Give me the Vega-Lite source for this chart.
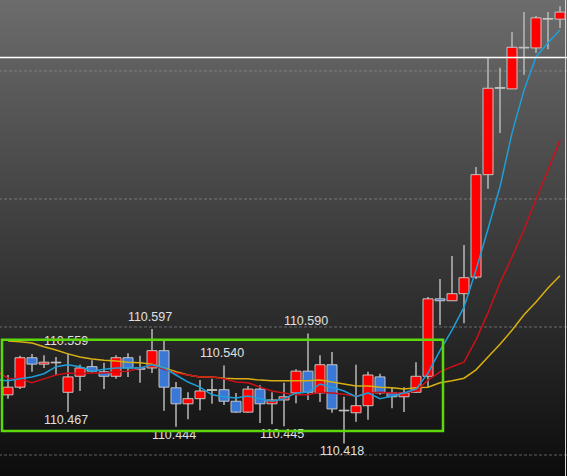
{
  "$schema": "https://vega.github.io/schema/vega-lite/v6.json",
  "width": 567,
  "height": 476,
  "autosize": {"type": "none"},
  "padding": 0,
  "background": "#0c0c0c",
  "config": {"view": {"stroke": null}, "axis": {"disable": true}, "scale": {"continuousPadding": 0}},
  "datasets": {
    "frame": [{"i0": -0.6667, "i1": 46.5833, "p0": 110.3672, "p1": 111.1109}],
    "box": [{"i0": -0.5, "i1": 36.25, "p0": 110.4375, "p1": 110.58}],
    "grid": [{"p": 110.4}, {"p": 110.6}, {"p": 110.8}, {"p": 111.0}],
    "level": [{"p": 111.021}],
    "edge": [{"i": 46.46}],
    "highs": [
      {"i": 5, "p": 110.559},
      {"i": 12, "p": 110.597},
      {"i": 18, "p": 110.54},
      {"i": 25, "p": 110.59}
    ],
    "lows": [
      {"i": 5, "p": 110.467},
      {"i": 14, "p": 110.444},
      {"i": 23, "p": 110.445},
      {"i": 28, "p": 110.418}
    ],
    "candles": [
      {"i": 0, "o": 110.494, "h": 110.525, "l": 110.488, "c": 110.506, "dir": "up"},
      {"i": 1, "o": 110.506, "h": 110.555, "l": 110.503, "c": 110.552, "dir": "up"},
      {"i": 2, "o": 110.552, "h": 110.558, "l": 110.53, "c": 110.542, "dir": "down"},
      {"i": 3, "o": 110.542, "h": 110.556, "l": 110.536, "c": 110.545, "dir": "up"},
      {"i": 4, "o": 110.545, "h": 110.553, "l": 110.525, "c": 110.544, "dir": "flat"},
      {"i": 5, "o": 110.498, "h": 110.559, "l": 110.467, "c": 110.522, "dir": "up"},
      {"i": 6, "o": 110.523, "h": 110.541, "l": 110.5, "c": 110.536, "dir": "up"},
      {"i": 7, "o": 110.538, "h": 110.548, "l": 110.528, "c": 110.531, "dir": "down"},
      {"i": 8, "o": 110.53, "h": 110.544, "l": 110.503, "c": 110.523, "dir": "down"},
      {"i": 9, "o": 110.523, "h": 110.556, "l": 110.519, "c": 110.552, "dir": "up"},
      {"i": 10, "o": 110.552, "h": 110.559, "l": 110.522, "c": 110.536, "dir": "down"},
      {"i": 11, "o": 110.536, "h": 110.555, "l": 110.513, "c": 110.534, "dir": "down"},
      {"i": 12, "o": 110.536, "h": 110.597, "l": 110.528, "c": 110.563, "dir": "up"},
      {"i": 13, "o": 110.563, "h": 110.578, "l": 110.469, "c": 110.506, "dir": "down"},
      {"i": 14, "o": 110.505, "h": 110.514, "l": 110.444, "c": 110.48, "dir": "down"},
      {"i": 15, "o": 110.48, "h": 110.498, "l": 110.456, "c": 110.488, "dir": "up"},
      {"i": 16, "o": 110.488, "h": 110.517, "l": 110.47, "c": 110.5, "dir": "up"},
      {"i": 17, "o": 110.502, "h": 110.519, "l": 110.48, "c": 110.501, "dir": "flat"},
      {"i": 18, "o": 110.502, "h": 110.54, "l": 110.478, "c": 110.484, "dir": "down"},
      {"i": 19, "o": 110.484, "h": 110.497, "l": 110.466, "c": 110.467, "dir": "down"},
      {"i": 20, "o": 110.467, "h": 110.508, "l": 110.466, "c": 110.503, "dir": "up"},
      {"i": 21, "o": 110.503, "h": 110.509, "l": 110.45, "c": 110.48, "dir": "down"},
      {"i": 22, "o": 110.48, "h": 110.498, "l": 110.448, "c": 110.486, "dir": "up"},
      {"i": 23, "o": 110.486, "h": 110.513, "l": 110.445, "c": 110.491, "dir": "up"},
      {"i": 24, "o": 110.497, "h": 110.534, "l": 110.481, "c": 110.531, "dir": "up"},
      {"i": 25, "o": 110.531, "h": 110.59, "l": 110.486, "c": 110.498, "dir": "down"},
      {"i": 26, "o": 110.497, "h": 110.556, "l": 110.483, "c": 110.541, "dir": "up"},
      {"i": 27, "o": 110.541, "h": 110.561, "l": 110.466, "c": 110.472, "dir": "down"},
      {"i": 28, "o": 110.47, "h": 110.491, "l": 110.418, "c": 110.469, "dir": "flat"},
      {"i": 29, "o": 110.466, "h": 110.541, "l": 110.452, "c": 110.477, "dir": "up"},
      {"i": 30, "o": 110.477, "h": 110.53, "l": 110.455, "c": 110.525, "dir": "up"},
      {"i": 31, "o": 110.522, "h": 110.527, "l": 110.494, "c": 110.497, "dir": "down"},
      {"i": 32, "o": 110.497, "h": 110.505, "l": 110.473, "c": 110.491, "dir": "down"},
      {"i": 33, "o": 110.491, "h": 110.506, "l": 110.467, "c": 110.497, "dir": "up"},
      {"i": 34, "o": 110.498, "h": 110.545, "l": 110.497, "c": 110.523, "dir": "up"},
      {"i": 35, "o": 110.523, "h": 110.647, "l": 110.506, "c": 110.644, "dir": "up"},
      {"i": 36, "o": 110.644, "h": 110.675, "l": 110.603, "c": 110.641, "dir": "down"},
      {"i": 37, "o": 110.641, "h": 110.711, "l": 110.641, "c": 110.652, "dir": "up"},
      {"i": 38, "o": 110.652, "h": 110.728, "l": 110.606, "c": 110.677, "dir": "up"},
      {"i": 39, "o": 110.678, "h": 110.85, "l": 110.675, "c": 110.838, "dir": "up"},
      {"i": 40, "o": 110.838, "h": 111.022, "l": 110.816, "c": 110.973, "dir": "up"},
      {"i": 41, "o": 110.974, "h": 111.005, "l": 110.903, "c": 110.973, "dir": "flat"},
      {"i": 42, "o": 110.972, "h": 111.061, "l": 110.972, "c": 111.037, "dir": "up"},
      {"i": 43, "o": 111.037, "h": 111.092, "l": 110.994, "c": 111.036, "dir": "flat"},
      {"i": 44, "o": 111.036, "h": 111.086, "l": 111.028, "c": 111.083, "dir": "up"},
      {"i": 45, "o": 111.082, "h": 111.092, "l": 111.034, "c": 111.081, "dir": "flat"},
      {"i": 46, "o": 111.081, "h": 111.101, "l": 111.067, "c": 111.092, "dir": "up"}
    ],
    "averages": [
      {"i": -0.67, "fast": 110.517, "mid": 110.528, "slow": null},
      {"i": 0, "fast": 110.516, "mid": 110.52, "slow": 110.578},
      {"i": 1, "fast": 110.519, "mid": 110.519, "slow": 110.577},
      {"i": 2, "fast": 110.522, "mid": 110.513, "slow": 110.575},
      {"i": 3, "fast": 110.527, "mid": 110.519, "slow": 110.569},
      {"i": 4, "fast": 110.538, "mid": 110.525, "slow": 110.564},
      {"i": 5, "fast": 110.541, "mid": 110.528, "slow": 110.558},
      {"i": 6, "fast": 110.538, "mid": 110.527, "slow": 110.553},
      {"i": 7, "fast": 110.531, "mid": 110.528, "slow": 110.55},
      {"i": 8, "fast": 110.534, "mid": 110.528, "slow": 110.548},
      {"i": 9, "fast": 110.536, "mid": 110.53, "slow": 110.547},
      {"i": 10, "fast": 110.536, "mid": 110.531, "slow": 110.545},
      {"i": 11, "fast": 110.536, "mid": 110.536, "slow": 110.544},
      {"i": 12, "fast": 110.541, "mid": 110.541, "slow": 110.542},
      {"i": 13, "fast": 110.536, "mid": 110.534, "slow": 110.536},
      {"i": 14, "fast": 110.525, "mid": 110.528, "slow": 110.53},
      {"i": 15, "fast": 110.514, "mid": 110.525, "slow": 110.525},
      {"i": 16, "fast": 110.506, "mid": 110.522, "slow": 110.522},
      {"i": 17, "fast": 110.494, "mid": 110.522, "slow": 110.522},
      {"i": 18, "fast": 110.491, "mid": 110.519, "slow": 110.52},
      {"i": 19, "fast": 110.489, "mid": 110.514, "slow": 110.519},
      {"i": 20, "fast": 110.492, "mid": 110.513, "slow": 110.519},
      {"i": 21, "fast": 110.488, "mid": 110.506, "slow": 110.517},
      {"i": 22, "fast": 110.484, "mid": 110.5, "slow": 110.516},
      {"i": 23, "fast": 110.488, "mid": 110.497, "slow": 110.516},
      {"i": 24, "fast": 110.497, "mid": 110.494, "slow": 110.516},
      {"i": 25, "fast": 110.498, "mid": 110.494, "slow": 110.516},
      {"i": 26, "fast": 110.511, "mid": 110.498, "slow": 110.517},
      {"i": 27, "fast": 110.506, "mid": 110.497, "slow": 110.514},
      {"i": 28, "fast": 110.5, "mid": 110.495, "slow": 110.511},
      {"i": 29, "fast": 110.491, "mid": 110.492, "slow": 110.508},
      {"i": 30, "fast": 110.497, "mid": 110.497, "slow": 110.508},
      {"i": 31, "fast": 110.488, "mid": 110.498, "slow": 110.506},
      {"i": 32, "fast": 110.492, "mid": 110.497, "slow": 110.505},
      {"i": 33, "fast": 110.497, "mid": 110.497, "slow": 110.503},
      {"i": 34, "fast": 110.503, "mid": 110.5, "slow": 110.505},
      {"i": 35, "fast": 110.528, "mid": 110.517, "slow": 110.506},
      {"i": 36, "fast": 110.563, "mid": 110.53, "slow": 110.513},
      {"i": 37, "fast": 110.595, "mid": 110.538, "slow": 110.516},
      {"i": 38, "fast": 110.631, "mid": 110.545, "slow": 110.52},
      {"i": 39, "fast": 110.689, "mid": 110.58, "slow": 110.533},
      {"i": 40, "fast": 110.753, "mid": 110.622, "slow": 110.553},
      {"i": 41, "fast": 110.819, "mid": 110.669, "slow": 110.573},
      {"i": 42, "fast": 110.903, "mid": 110.709, "slow": 110.595},
      {"i": 43, "fast": 110.97, "mid": 110.752, "slow": 110.619},
      {"i": 44, "fast": 111.022, "mid": 110.8, "slow": 110.639},
      {"i": 45, "fast": 111.044, "mid": 110.845, "slow": 110.661},
      {"i": 46, "fast": 111.064, "mid": 110.892, "slow": 110.68}
    ]
  },
  "layer": [
    {
      "data": {"name": "frame"},
      "mark": {
        "type": "rect",
        "color": {
          "x1": 0, "y1": 0, "x2": 0, "y2": 1,
          "gradient": "linear",
          "stops": [
            {"offset": 0, "color": "#6c6c6c"},
            {"offset": 1, "color": "#0c0c0c"}
          ]
        }
      },
      "encoding": {
        "x": {"field": "i0", "type": "quantitative", "scale": {"domain": [-0.6667, 46.5833], "nice": false, "zero": false, "padding": 0}},
        "x2": {"field": "i1"},
        "y": {"field": "p0", "type": "quantitative", "scale": {"domain": [110.3672, 111.1109], "nice": false, "zero": false}},
        "y2": {"field": "p1"}
      }
    },
    {
      "data": {"name": "grid"},
      "mark": {"type": "rule", "color": "#9a9a9a", "strokeWidth": 1, "strokeDash": [3, 2], "opacity": 0.6},
      "encoding": {
        "y": {"field": "p", "type": "quantitative", "scale": {"domain": [110.3672, 111.1109], "nice": false, "zero": false}}
      }
    },
    {
      "data": {"name": "edge"},
      "mark": {"type": "rule", "color": "#dddddd", "strokeWidth": 1},
      "encoding": {
        "x": {"field": "i", "type": "quantitative", "scale": {"domain": [-0.6667, 46.5833], "nice": false, "zero": false, "padding": 0}}
      }
    },
    {
      "data": {"name": "highs"},
      "mark": {"type": "text", "font": "Liberation Sans", "fontSize": 12.5, "color": "#e0e0e0", "dx": -2, "dy": -12},
      "encoding": {
        "x": {"field": "i", "type": "quantitative", "scale": {"domain": [-0.6667, 46.5833], "nice": false, "zero": false, "padding": 0}},
        "y": {"field": "p", "type": "quantitative", "scale": {"domain": [110.3672, 111.1109], "nice": false, "zero": false}},
        "text": {"field": "p", "type": "quantitative", "format": ".3f"}
      }
    },
    {
      "data": {"name": "lows"},
      "mark": {"type": "text", "font": "Liberation Sans", "fontSize": 12.5, "color": "#e0e0e0", "dx": -2, "dy": 8},
      "encoding": {
        "x": {"field": "i", "type": "quantitative", "scale": {"domain": [-0.6667, 46.5833], "nice": false, "zero": false, "padding": 0}},
        "y": {"field": "p", "type": "quantitative", "scale": {"domain": [110.3672, 111.1109], "nice": false, "zero": false}},
        "text": {"field": "p", "type": "quantitative", "format": ".3f"}
      }
    },
    {
      "data": {"name": "candles"},
      "mark": {"type": "rule", "color": "#b9b9b9", "strokeWidth": 1.5},
      "encoding": {
        "x": {"field": "i", "type": "quantitative", "scale": {"domain": [-0.6667, 46.5833], "nice": false, "zero": false, "padding": 0}},
        "y": {"field": "l", "type": "quantitative", "scale": {"domain": [110.3672, 111.1109], "nice": false, "zero": false}},
        "y2": {"field": "h"}
      }
    },
    {
      "data": {"name": "candles"},
      "mark": {"type": "bar", "size": 10, "stroke": "#c4c4c4", "strokeWidth": 1},
      "encoding": {
        "x": {"field": "i", "type": "quantitative", "scale": {"domain": [-0.6667, 46.5833], "nice": false, "zero": false, "padding": 0}},
        "y": {"field": "o", "type": "quantitative", "scale": {"domain": [110.3672, 111.1109], "nice": false, "zero": false}},
        "y2": {"field": "c"},
        "color": {
          "field": "dir",
          "type": "nominal",
          "legend": null,
          "scale": {"domain": ["up", "down", "flat"], "range": ["#ff0000", "#3a78d8", "#c4c4c4"]}
        }
      }
    },
    {
      "data": {"name": "averages"},
      "mark": {"type": "line", "color": "#d8b010", "strokeWidth": 1.5},
      "encoding": {
        "x": {"field": "i", "type": "quantitative", "scale": {"domain": [-0.6667, 46.5833], "nice": false, "zero": false, "padding": 0}},
        "y": {"field": "slow", "type": "quantitative", "scale": {"domain": [110.3672, 111.1109], "nice": false, "zero": false}}
      }
    },
    {
      "data": {"name": "averages"},
      "mark": {"type": "line", "color": "#cc1018", "strokeWidth": 1.5},
      "encoding": {
        "x": {"field": "i", "type": "quantitative", "scale": {"domain": [-0.6667, 46.5833], "nice": false, "zero": false, "padding": 0}},
        "y": {"field": "mid", "type": "quantitative", "scale": {"domain": [110.3672, 111.1109], "nice": false, "zero": false}}
      }
    },
    {
      "data": {"name": "averages"},
      "mark": {"type": "line", "color": "#1e9fd8", "strokeWidth": 1.5},
      "encoding": {
        "x": {"field": "i", "type": "quantitative", "scale": {"domain": [-0.6667, 46.5833], "nice": false, "zero": false, "padding": 0}},
        "y": {"field": "fast", "type": "quantitative", "scale": {"domain": [110.3672, 111.1109], "nice": false, "zero": false}}
      }
    },
    {
      "data": {"name": "level"},
      "mark": {"type": "rule", "color": "#ffffff", "strokeWidth": 1.5},
      "encoding": {
        "y": {"field": "p", "type": "quantitative", "scale": {"domain": [110.3672, 111.1109], "nice": false, "zero": false}}
      }
    },
    {
      "data": {"name": "box"},
      "mark": {"type": "rect", "fillOpacity": 0, "stroke": "#5cd80c", "strokeWidth": 2.5},
      "encoding": {
        "x": {"field": "i0", "type": "quantitative", "scale": {"domain": [-0.6667, 46.5833], "nice": false, "zero": false, "padding": 0}},
        "x2": {"field": "i1"},
        "y": {"field": "p0", "type": "quantitative", "scale": {"domain": [110.3672, 111.1109], "nice": false, "zero": false}},
        "y2": {"field": "p1"}
      }
    }
  ]
}
